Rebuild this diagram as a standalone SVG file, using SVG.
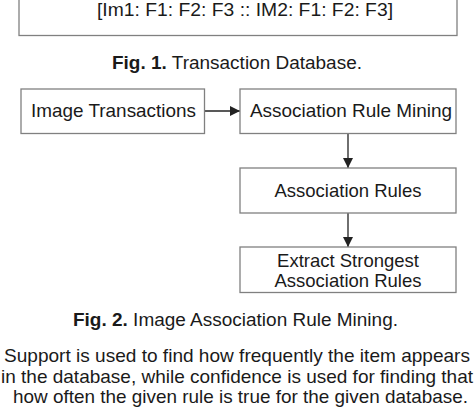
<svg xmlns="http://www.w3.org/2000/svg" width="474" height="409" viewBox="0 0 474 409">
<style>
text{font-family:"Liberation Sans",Arial,sans-serif;fill:#1a1a1a}
.box{fill:#fff;stroke:#808080;stroke-width:1.3}
.lbl{font-size:18.5px;text-anchor:middle}
.cap{font-size:17.5px;text-anchor:middle}
.par{font-size:19px;text-anchor:middle}
.con{stroke:#222;stroke-width:1.3;fill:none}
</style>
<defs>
<marker id="ah" viewBox="0 0 10 10" refX="10" refY="5" markerWidth="10" markerHeight="10" markerUnits="userSpaceOnUse" orient="auto">
<path d="M0,0 L10,5 L0,10 z" fill="#222"/>
</marker>
</defs>
<rect width="474" height="409" fill="#fff"/>
<g id="transaction-db">
<rect class="box" x="19" y="-10" width="438" height="45.5"/>
<text class="lbl" x="245" y="16" textLength="296" lengthAdjust="spacingAndGlyphs">[Im1: F1: F2: F3 ::  IM2: F1: F2: F3]</text>
</g>
<text class="cap" x="237" y="68.5" textLength="250" lengthAdjust="spacingAndGlyphs"><tspan font-weight="bold">Fig. 1.</tspan> Transaction Database.</text>
<g id="connectors">
<line class="con" x1="205" y1="111" x2="240" y2="111" marker-end="url(#ah)"/>
<line class="con" x1="348" y1="133.5" x2="348" y2="168" marker-end="url(#ah)"/>
<line class="con" x1="348" y1="213" x2="348" y2="247" marker-end="url(#ah)"/>
</g>
<g id="image-transactions">
<rect class="box" x="21" y="89" width="183.5" height="44.5"/>
<text class="lbl" x="113.5" y="117" textLength="165" lengthAdjust="spacingAndGlyphs">Image Transactions</text>
</g>
<g id="association-rule-mining">
<rect class="box" x="240" y="89" width="216" height="44.5"/>
<text class="lbl" x="351" y="117" textLength="202" lengthAdjust="spacingAndGlyphs">Association Rule Mining</text>
</g>
<g id="association-rules">
<rect class="box" x="240" y="168" width="216" height="45"/>
<text class="lbl" x="348" y="197">Association Rules</text>
</g>
<g id="extract-strongest">
<rect class="box" x="240" y="247" width="216" height="45.5"/>
<text class="lbl" x="348" y="267">Extract Strongest</text>
<text class="lbl" x="348" y="287">Association Rules</text>
</g>
<text class="cap" x="235.5" y="326" textLength="325" lengthAdjust="spacingAndGlyphs"><tspan font-weight="bold">Fig. 2.</tspan> Image Association Rule Mining.</text>
<text class="par" x="237" y="361.5" textLength="466" lengthAdjust="spacingAndGlyphs">Support is used to find how frequently the item appears</text>
<text class="par" x="237" y="383" textLength="472" lengthAdjust="spacingAndGlyphs">in the database, while confidence is used for finding that</text>
<text class="par" x="240.5" y="403" textLength="455" lengthAdjust="spacingAndGlyphs">how often the given rule is true for the given database.</text>
</svg>
